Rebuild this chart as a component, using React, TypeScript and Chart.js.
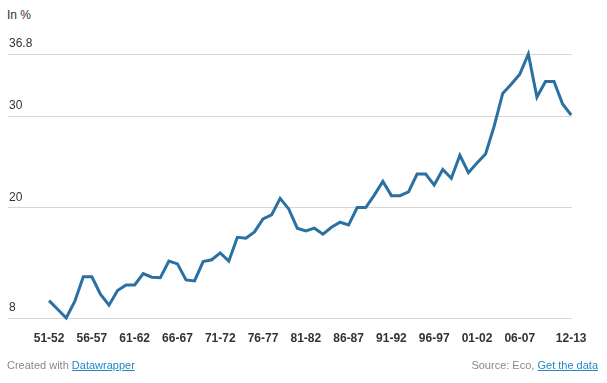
import React, { useEffect, useRef } from "react";
import { Chart, registerables } from "chart.js";

Chart.register(...registerables);

const categories: string[] = [
  "51-52", "52-53", "53-54", "54-55", "55-56", "56-57", "57-58", "58-59", "59-60", "60-61",
  "61-62", "62-63", "63-64", "64-65", "65-66", "66-67", "67-68", "68-69", "69-70", "70-71",
  "71-72", "72-73", "73-74", "74-75", "75-76", "76-77", "77-78", "78-79", "79-80", "80-81",
  "81-82", "82-83", "83-84", "84-85", "85-86", "86-87", "87-88", "88-89", "89-90", "90-91",
  "91-92", "92-93", "93-94", "94-95", "95-96", "96-97", "97-98", "98-99", "99-00", "00-01",
  "01-02", "02-03", "03-04", "04-05", "05-06", "06-07", "07-08", "08-09", "09-10", "10-11",
  "11-12", "12-13",
];

const values: number[] = [
  9.9, 8.95, 8.0, 9.8, 12.5, 12.5, 10.6, 9.4, 11.0, 11.6,
  11.6, 12.85, 12.45, 12.4, 14.2, 13.9, 12.15, 12.05, 14.15, 14.35,
  15.1, 14.2, 16.8, 16.7, 17.4, 18.8, 19.25, 21.05, 19.9, 17.8,
  17.5, 17.8, 17.15, 17.9, 18.45, 18.15, 20.05, 20.05, 21.4, 22.9,
  21.35, 21.35, 21.75, 23.7, 23.7, 22.5, 24.2, 23.25, 25.75, 23.85,
  24.9, 25.9, 28.9, 32.5, 33.5, 34.6, 36.8, 32.1, 33.8, 33.8,
  31.35, 30.15,
];

const xTickIndices: number[] = [0, 5, 10, 15, 20, 25, 30, 35, 40, 45, 50, 55, 61];
const yTicks: number[] = [8, 20, 30, 36.8];

const FONT = "'Liberation Sans', Arial, Helvetica, sans-serif";

export default function App() {
  const canvasRef = useRef<HTMLCanvasElement | null>(null);

  useEffect(() => {
    const canvas = canvasRef.current;
    if (!canvas) return;
    const chart = new Chart(canvas, {
      type: "line",
      data: {
        datasets: [
          {
            data: values.map((v, i) => ({ x: i, y: v })),
            borderColor: "#2a70a2",
            borderWidth: 3,
            pointRadius: 0,
            pointHoverRadius: 0,
            tension: 0,
            fill: false,
            clip: false as any,
          },
        ],
      },
      options: {
        animation: false,
        responsive: false,
        maintainAspectRatio: false,
        events: [],
        layout: { padding: { left: 6, right: 35, top: 54, bottom: 24.6 } },
        plugins: {
          legend: { display: false },
          tooltip: { enabled: false },
          title: { display: false },
        },
        scales: {
          x: {
            type: "linear",
            min: -4.8,
            max: 61.1,
            grid: { display: false, drawTicks: false },
            border: { display: false },
            afterBuildTicks: (axis: any) => {
              axis.ticks = xTickIndices.map((v) => ({ value: v }));
            },
            ticks: {
              autoSkip: false,
              maxRotation: 0,
              minRotation: 0,
              padding: 13,
              color: "#333333",
              font: { family: FONT, size: 12, weight: "bold" },
              callback: (v: any) => categories[Number(v)] ?? "",
            },
          },
          y: {
            type: "linear",
            min: 8,
            max: 36.8,
            grid: { color: "#d6d6d6", lineWidth: 1, drawTicks: false },
            border: { display: false },
            afterBuildTicks: (axis: any) => {
              axis.ticks = yTicks.map((v) => ({ value: v }));
            },
            ticks: {
              mirror: true,
              padding: 1,
              labelOffset: -10.5,
              color: "#333333",
              font: { family: FONT, size: 12 },
              callback: (v: any) => String(v),
            },
          },
        },
      },
    });
    return () => chart.destroy();
  }, []);

  return (
    <div
      style={{
        position: "absolute",
        left: 0,
        top: 0,
        width: 607,
        height: 383,
        background: "#ffffff",
        fontFamily: FONT,
        overflow: "hidden",
      }}
    >
      <div
        style={{
          position: "absolute",
          left: 7,
          top: 8,
          fontSize: 12,
          lineHeight: "14px",
          color: "#333333",
        }}
      >
        In %
      </div>
      <canvas
        ref={canvasRef}
        width={607}
        height={383}
        style={{ position: "absolute", left: 0, top: 0, width: 607, height: 383 }}
      />
      <div
        style={{
          position: "absolute",
          left: 7,
          top: 358,
          fontSize: 11,
          lineHeight: "14px",
          color: "#888888",
        }}
      >
        Created with{" "}
        <a href="#" style={{ color: "#2389c9", textDecoration: "underline" }}>
          Datawrapper
        </a>
      </div>
      <div
        style={{
          position: "absolute",
          right: 9,
          top: 358,
          fontSize: 11,
          lineHeight: "14px",
          color: "#888888",
        }}
      >
        Source: Eco,{" "}
        <a href="#" style={{ color: "#2389c9", textDecoration: "underline" }}>
          Get the data
        </a>
      </div>
    </div>
  );
}
